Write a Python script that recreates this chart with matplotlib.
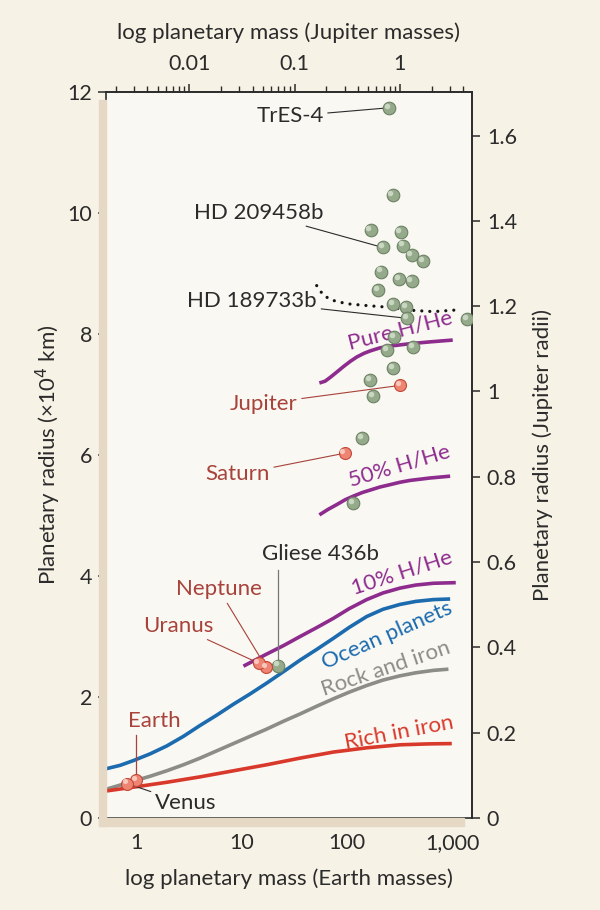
import numpy as np
import matplotlib
matplotlib.use('Agg')
import matplotlib.pyplot as plt
import matplotlib.ticker as mticker
from matplotlib.transforms import ScaledTranslation

plt.rcParams['font.family'] = ['Lato', 'DejaVu Sans']

# --- data (mass in Earth masses, radius in 10^4 km) ---
exo_mass = [253, 272, 168, 324, 219, 339, 412, 532, 211, 315, 412, 196, 276, 362,
            370, 1374, 282, 242, 427, 276, 166, 178, 140, 115, 22.3]
exo_radius = [11.74, 10.30, 9.72, 9.68, 9.43, 9.46, 9.31, 9.20, 9.03, 8.91, 8.88, 8.73,
              8.49, 8.44, 8.26, 8.24, 7.95, 7.74, 7.78, 7.43, 7.24, 6.97, 6.28, 5.21, 2.52]

solar_names = ['Jupiter', 'Saturn', 'Neptune', 'Uranus', 'Earth', 'Venus']
solar_mass = [318, 95.2, 17.1, 14.5, 1.0, 0.815]
solar_radius = [7.15, 6.03, 2.49, 2.56, 0.63, 0.57]

pure_mass = [54.7, 62, 69, 80, 92.4, 108, 124, 145, 166, 205, 257, 398, 616, 1011]
pure_radius = [7.19, 7.22, 7.28, 7.37, 7.46, 7.55, 7.62, 7.68, 7.72, 7.77, 7.80, 7.84, 7.87, 7.90]

half_mass = [54.7, 66, 80, 96, 115, 140, 166, 205, 257, 320, 398, 616, 955]
half_radius = [5.01, 5.10, 5.18, 5.26, 5.32, 5.38, 5.42, 5.47, 5.51, 5.55, 5.58, 5.62, 5.65]

tenth_mass = [10.4, 17.3, 25, 35.9, 52, 74.3, 105, 154, 220, 319, 450, 661, 1080]
tenth_radius = [2.51, 2.71, 2.85, 3.00, 3.15, 3.30, 3.46, 3.61, 3.72, 3.80, 3.85, 3.88, 3.89]

ocean_mass = [0.505, 0.7, 0.94, 1.35, 1.94, 2.8, 4.03, 5.8, 8.34, 12, 17.3, 25, 35.9,
              52, 74.3, 105, 154, 220, 319, 450, 661, 955]
ocean_radius = [0.81, 0.87, 0.95, 1.06, 1.19, 1.35, 1.53, 1.70, 1.88, 2.05, 2.23, 2.42, 2.61,
                2.79, 2.97, 3.15, 3.33, 3.45, 3.53, 3.58, 3.61, 3.62]

rock_mass = [0.505, 0.94, 1.35, 1.94, 2.8, 4.03, 5.8, 8.34, 12, 17.3, 25, 35.9, 52, 74.3,
             105, 154, 220, 319, 450, 661, 920]
rock_radius = [0.47, 0.61, 0.69, 0.78, 0.88, 0.99, 1.11, 1.23, 1.35, 1.47, 1.60, 1.72, 1.85,
               1.97, 2.08, 2.19, 2.28, 2.35, 2.40, 2.44, 2.46]

iron_mass = [0.486, 0.94, 1.94, 4.03, 8.34, 17.3, 35.9, 74.3, 154, 319, 600, 990]
iron_radius = [0.44, 0.51, 0.59, 0.68, 0.78, 0.88, 0.99, 1.09, 1.16, 1.21, 1.225, 1.23]

dot_mass = [51.6, 59.7, 71.8, 99.6, 154, 256, 427, 661, 1161]
dot_radius = [8.80, 8.64, 8.56, 8.50, 8.47, 8.44, 8.39, 8.37, 8.40]

EARTH_PER_JUPITER = 317.8
JUP_RADIUS = 7.05

bg = '#F7F2E6'
panel = '#F9F8F3'
tan = '#E5D8C4'
purple = '#8E2C8E'
blue = '#1C6BAF'
grey = '#8B8D86'
red = '#D9392B'
brick = '#A8423A'
ink = '#2B2B2B'
FS = 16
TS = 15.5

fig = plt.figure(figsize=(6.0, 9.1), dpi=100, facecolor=bg)
ax = fig.add_axes([0.1767, 0.1011, 0.6092, 0.7978])
ax.set_facecolor(panel)

# tan shadow strips along left and bottom
fig.patches.append(plt.Rectangle((99 / 600, 1 - 826 / 910), 7 / 600, (826 - 100) / 910,
                                 transform=fig.transFigure, color=tan, zorder=0))
fig.patches.append(plt.Rectangle((99 / 600, 1 - 826 / 910), (464 - 99) / 600, 8 / 910,
                                 transform=fig.transFigure, color=tan, zorder=0))

ax.set_xscale('log')
ax.set_xlim(0.515, 1525)
ax.set_ylim(0, 12)

# model curves
for m, r, c in [(pure_mass, pure_radius, purple), (half_mass, half_radius, purple),
                (tenth_mass, tenth_radius, purple), (ocean_mass, ocean_radius, blue),
                (rock_mass, rock_radius, grey), (iron_mass, iron_radius, red)]:
    ax.plot(m, r, color=c, lw=2.6, solid_capstyle='butt', solid_joinstyle='round', zorder=2)
ax.plot(dot_mass, dot_radius, color='#151515', lw=2.3, linestyle=(0, (0.01, 2.5)),
        dash_capstyle='round', zorder=2)

# curve labels
def curve_label(text, m, r, angle, color):
    ax.text(m, r, text, color=color, fontsize=FS, rotation=angle,
            ha='center', va='center', rotation_mode='anchor', zorder=3)

curve_label('Pure H/He', 318, 8.06, 14.3, purple)
curve_label('50% H/He', 318, 5.82, 16.5, purple)
curve_label('10% H/He', 334, 4.06, 17.9, purple)
curve_label('Ocean planets', 240, 3.02, 23.8, blue)
curve_label('Rock and iron', 232, 2.46, 18.7, grey)
curve_label('Rich in iron', 312, 1.41, 10.8, red)

# spheres with a small highlight
hl = ScaledTranslation(-1.6 / 72, 1.6 / 72, fig.dpi_scale_trans)
ax.scatter(exo_mass, exo_radius, s=82, color='#95AA8B', edgecolor='#6C8264', lw=0.8, zorder=5)
ax.scatter(exo_mass, exo_radius, s=16, color='#C9D6C2', lw=0, zorder=6,
           transform=ax.transData + hl)
ax.scatter(solar_mass, solar_radius, s=74, color='#EE8472', edgecolor='#C2483A', lw=0.8, zorder=5)
ax.scatter(solar_mass, solar_radius, s=14, color='#F8C6BA', lw=0, zorder=6,
           transform=ax.transData + hl)

# annotations
def note(text, xy, xytext, color, ha='right', lcolor=None):
    ax.annotate(text, xy=xy, xytext=xytext, color=color, fontsize=FS, ha=ha, va='center',
                arrowprops=dict(arrowstyle='-', color=lcolor or color, lw=0.8,
                                shrinkA=1, shrinkB=4), zorder=4)

note('TrES-4', (exo_mass[0], exo_radius[0]), (60, 11.6), ink)
note('HD 209458b', (exo_mass[4], exo_radius[4]), (60, 10.0), ink)
note('HD 189733b', (exo_mass[14], exo_radius[14]), (52, 8.54), ink)
note('Jupiter', (solar_mass[0], solar_radius[0]), (34, 6.85), brick)
note('Saturn', (solar_mass[1], solar_radius[1]), (18.5, 5.68), brick)
note('Neptune', (solar_mass[2], solar_radius[2]), (15.5, 3.78), brick)
note('Uranus', (solar_mass[3], solar_radius[3]), (5.4, 3.17), brick)
ax.annotate('Venus', xy=(solar_mass[5], solar_radius[5]), xytext=(1.5, 0.24),
            color=ink, fontsize=FS, ha='left', va='center',
            arrowprops=dict(arrowstyle='-', color=ink, lw=0.8, shrinkA=1, shrinkB=3),
            zorder=4)

# labels with vertical leaders
ax.text(15.5, 4.36, 'Gliese 436b', color=ink, fontsize=FS, ha='left', va='center', zorder=4)
ax.plot([exo_mass[-1], exo_mass[-1]], [4.1, exo_radius[-1] + 0.08], color='#777777',
        lw=0.9, zorder=4)
ax.text(0.84, 1.6, 'Earth', color=brick, fontsize=FS, ha='left', va='center', zorder=4)
ax.plot([solar_mass[4], solar_mass[4]], [1.37, solar_radius[4] + 0.08], color=brick,
        lw=0.9, zorder=4)

# axes styling
for sp in ax.spines.values():
    sp.set_color(ink)
    sp.set_linewidth(1.2)

ax.set_yticks(np.arange(0, 13, 2))
ax.yaxis.set_minor_locator(mticker.MultipleLocator(0.5))
ax.xaxis.set_major_locator(mticker.FixedLocator([1, 10, 100, 1000]))
ax.xaxis.set_major_formatter(mticker.FuncFormatter(lambda v, p: f'{v:,.0f}'))
ax.xaxis.set_minor_locator(mticker.LogLocator(base=10, subs=np.arange(2, 10)))
ax.xaxis.set_minor_formatter(mticker.NullFormatter())
ax.tick_params(axis='both', which='major', direction='out', length=6, width=1.1,
               color=ink, labelsize=TS, labelcolor=ink)
ax.tick_params(axis='both', which='minor', direction='out', length=4, width=1.0, color=ink)
ax.tick_params(axis='x', which='major', pad=5)
ax.tick_params(axis='y', which='major', pad=4)
ax.set_xlabel('log planetary mass (Earth masses)', fontsize=FS, color=ink, labelpad=11)
ax.set_ylabel('Planetary radius (×10$^4$ km)', fontsize=FS, color=ink, labelpad=3)

top = ax.secondary_xaxis('top', functions=(lambda m: m / EARTH_PER_JUPITER,
                                           lambda j: j * EARTH_PER_JUPITER))
top.xaxis.set_major_locator(mticker.FixedLocator([0.01, 0.1, 1]))
top.xaxis.set_major_formatter(mticker.FixedFormatter(['0.01', '0.1', '1']))
top.xaxis.set_minor_locator(mticker.LogLocator(base=10, subs=np.arange(2, 10)))
top.xaxis.set_minor_formatter(mticker.NullFormatter())
top.tick_params(which='major', direction='out', length=6, width=1.1, color=ink,
                labelsize=TS, labelcolor=ink, pad=7)
top.tick_params(which='minor', direction='out', length=4, width=1.0, color=ink)
top.set_xlabel('log planetary mass (Jupiter masses)', fontsize=FS, color=ink, labelpad=11)
top.spines['top'].set_color(ink)
top.spines['top'].set_linewidth(1.2)

right = ax.secondary_yaxis('right', functions=(lambda r: r / JUP_RADIUS,
                                               lambda r: r * JUP_RADIUS))
right.yaxis.set_major_locator(mticker.FixedLocator([0, 0.2, 0.4, 0.6, 0.8, 1.0, 1.2, 1.4, 1.6]))
right.yaxis.set_major_formatter(mticker.FixedFormatter(
    ['0', '0.2', '0.4', '0.6', '0.8', '1', '1.2', '1.4', '1.6']))
right.yaxis.set_minor_locator(mticker.NullLocator())
right.tick_params(which='major', direction='out', length=6, width=1.1, color=ink,
                  labelsize=TS, labelcolor=ink, pad=5)
right.set_ylabel('Planetary radius (Jupiter radii)', fontsize=FS, color=ink, labelpad=11)
right.spines['right'].set_color(ink)
right.spines['right'].set_linewidth(1.2)

ax.tick_params(top=False, right=False)

fig.savefig('out.png', dpi=100, facecolor=bg)
